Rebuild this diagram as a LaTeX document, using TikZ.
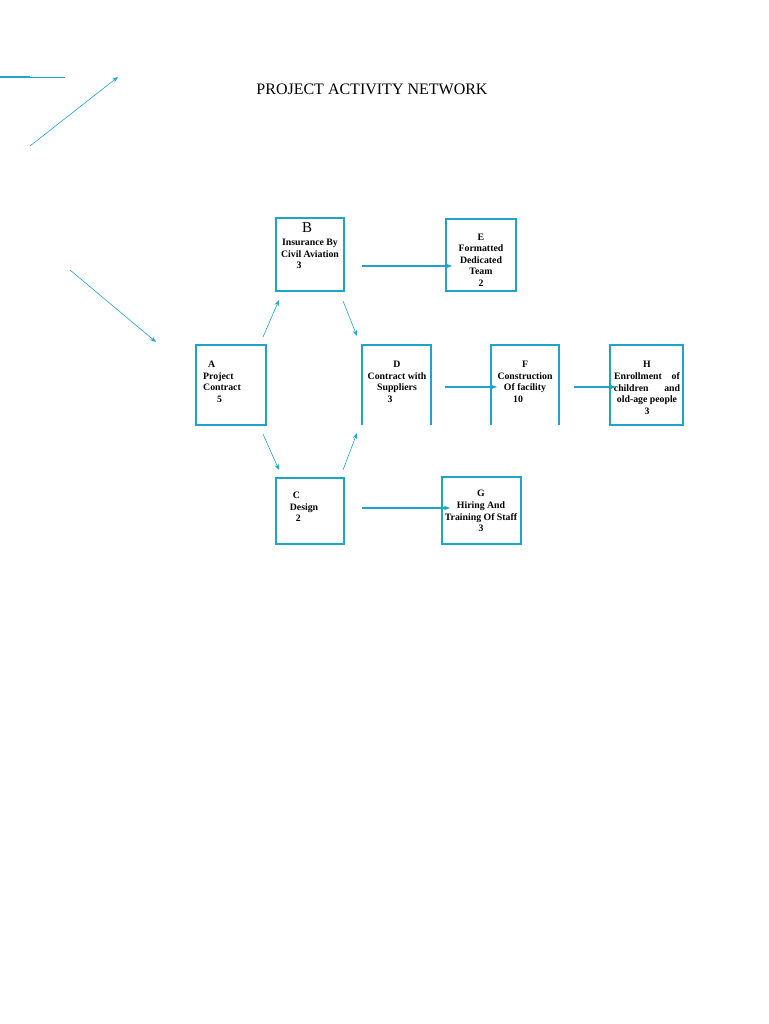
\documentclass[tikz,border=0pt]{standalone}
\usepackage{fontspec}
\setmainfont{Liberation Serif}
\usetikzlibrary{arrows.meta}
\definecolor{cy}{HTML}{1FA3C8}
\begin{document}
\begin{tikzpicture}[x=1pt,y=-1pt,
  box/.style={draw=cy,line width=1.3pt},
  txt/.style={font=\bfseries\fontsize{9.8}{11.6}\selectfont,align=center,inner sep=0pt},
  arr/.style={draw=cy,line width=1.2pt,-{Stealth[length=6pt,width=4.5pt]}},
  thin/.style={draw=cy,line width=0.6pt,-{Stealth[length=6pt,width=4.5pt]}}]
\useasboundingbox (0,0) rectangle (768,1024);
\node[font=\fontsize{16}{18}\selectfont] (title) at (372,89) {PROJECT ACTIVITY NETWORK};
% boxes
\draw[box] (276,218) rectangle (344,291);
\draw[box] (446,219) rectangle (516,291);
\draw[box] (196,345) rectangle (266,425);
\draw[box] (362,425) -- (362,345) -- (431,345) -- (431,425);
\draw[box] (491,425) -- (491,345) -- (559,345) -- (559,425);
\draw[box] (610,345) rectangle (683,425);
\draw[box] (276,478) rectangle (344,544);
\draw[box] (442,477) rectangle (521,544);
% texts
\node[font=\fontsize{15}{16}\selectfont] (Bl) at (307,228) {B};
\node[txt] (Bt) at (310,254) {Insurance By\\Civil Aviation\\\hspace*{-22pt}3};
\node[txt] (Et) at (481,260) {E\\Formatted\\Dedicated\\Team\\2};
\node[txt,align=left] (At) at (222,382) {\hspace*{5pt}A\\Project\\Contract\\\hspace*{14pt}5};
\node[txt] (Dt) at (397,382) {D\\Contract with\\Suppliers\\\hspace*{-14pt}3};
\node[txt] (Ft) at (525,382) {F\\Construction\\Of facility\\\hspace*{-14pt}10};
\node[txt] (Ht) at (647,388) {H\\Enrollment\hspace{1em}of\\children\hspace{1.6em}and\\old-age people\\3};
\node[txt,align=left] (Ct) at (304,507) {\hspace*{3pt}C\\Design\\\hspace*{6pt}2};
\node[txt] (Gt) at (481,511) {G\\Hiring And\\Training Of Staff\\3};
% connector coordinates
\coordinate (b1) at (362,266); \coordinate (b2) at (452,266);
\coordinate (d1) at (445,387); \coordinate (d2) at (497,387);
\coordinate (f1) at (574,387); \coordinate (f2) at (616,387);
\coordinate (c1) at (362,508); \coordinate (c2) at (450,508);
\coordinate (ab1) at (263,337); \coordinate (ab2) at (279,300);
\coordinate (bd1) at (343,301); \coordinate (bd2) at (357,336);
\coordinate (ac1) at (263,434); \coordinate (ac2) at (279,470);
\coordinate (cd1) at (343,470); \coordinate (cd2) at (357,433);
\draw[arr] (b1) -- (b2);
\draw[arr] (d1) -- (d2);
\draw[arr] (f1) -- (f2);
\draw[arr] (c1) -- (c2);
\draw[thin] (ab1) -- (ab2);
\draw[thin] (bd1) -- (bd2);
\draw[thin] (ac1) -- (ac2);
\draw[thin] (cd1) -- (cd2);
% stray top-left strokes
\coordinate (l1) at (0,77); \coordinate (l2) at (65,77); \coordinate (l3) at (30,77);
\draw[draw=cy,line width=0.7pt] (l1) -- (l2);
\draw[draw=cy,line width=1.4pt] (l1) -- (l3);
\coordinate (s1) at (30,146); \coordinate (s2) at (118,77);
\coordinate (t1) at (70,270); \coordinate (t2) at (156,342);
\draw[thin] (s1) -- (s2);
\draw[thin] (t1) -- (t2);
\end{tikzpicture}
\end{document}
